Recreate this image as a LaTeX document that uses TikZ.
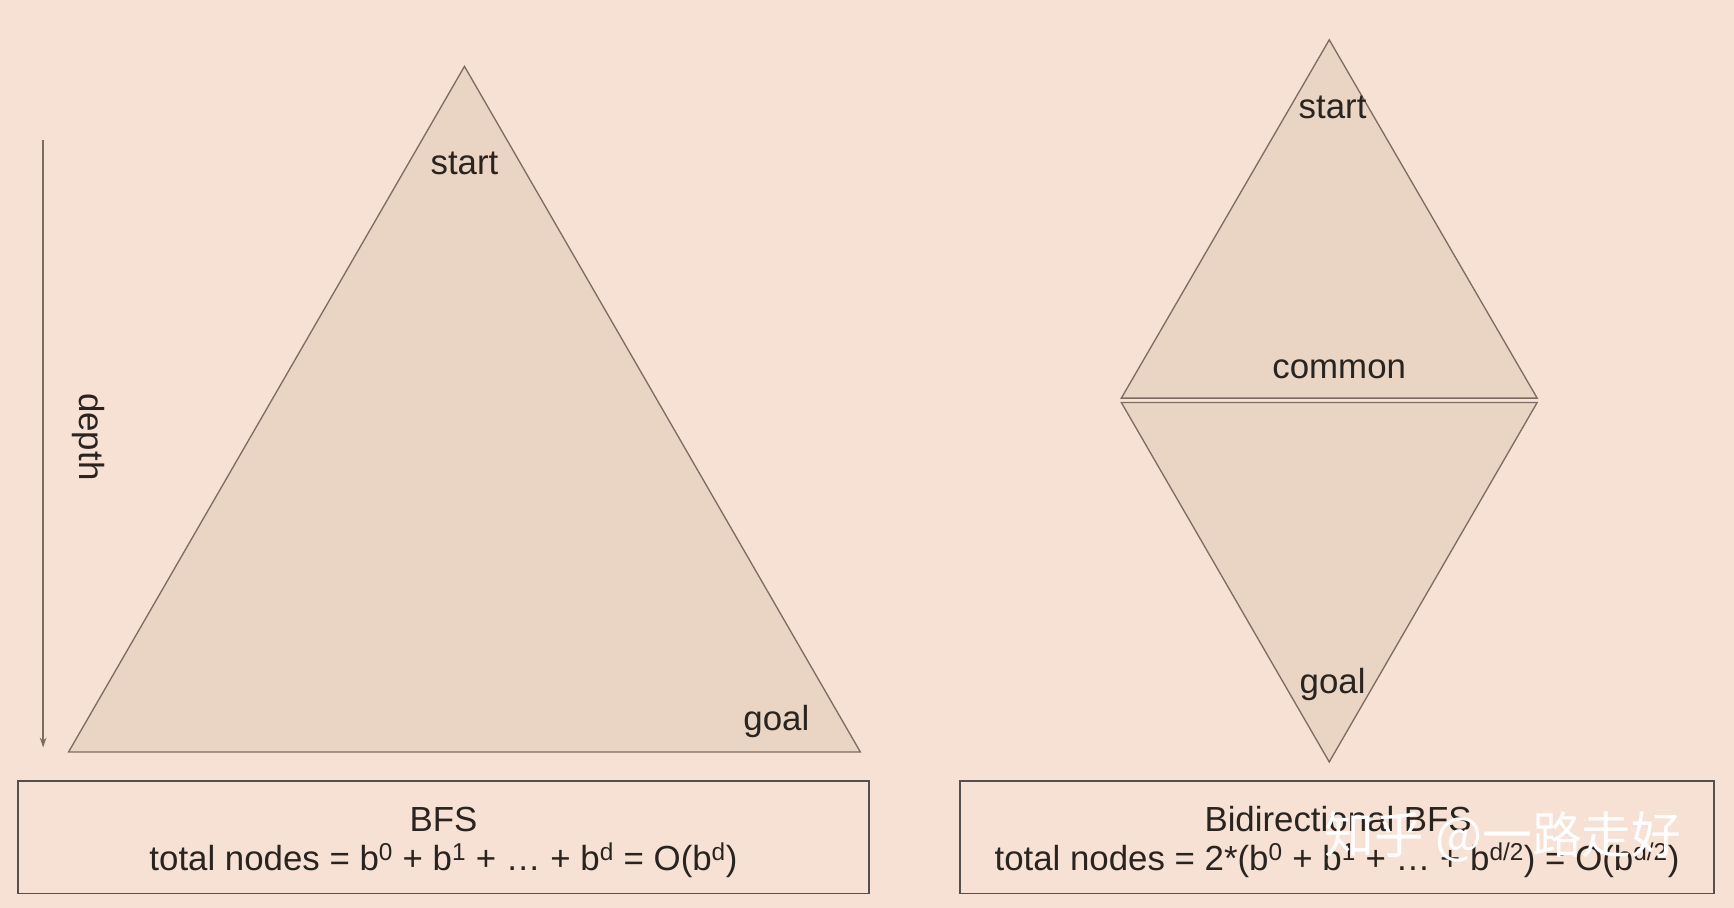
\documentclass[tikz,border=0pt]{standalone}
\usepackage{fontspec}
\usetikzlibrary{arrows.meta}
\setmainfont{Liberation Sans}
\newfontfamily\cjk{Noto Sans CJK SC}
\definecolor{bg}{HTML}{F7E1D4}
\definecolor{tri}{HTML}{EAD5C4}
\definecolor{edge}{HTML}{7E6C62}
\definecolor{ink}{HTML}{2A2420}
\begin{document}
\begin{tikzpicture}[x=1pt,y=-1pt,
  trishape/.style={fill=tri,draw=edge,line width=1.2pt,line join=miter},
  lbl/.style={font=\fontsize{31.5}{36}\selectfont,text=ink,inner sep=0pt},
  boxs/.style={draw=ink!80,line width=1.5pt}]
\fill[bg] (0,0) rectangle (1568,821);
\useasboundingbox (0,0) rectangle (1568,821);
% left
\draw[trishape] (420,60) -- (778,680) -- (62,680) -- cycle;
\coordinate (d1) at (39,127); \coordinate (d2) at (39,676);
\draw[edge,line width=1.2pt,-{Stealth[length=9pt,width=6pt]}] (d1) -- (d2);
\node[lbl,rotate=-90] (depth) at (80,395) {depth};
\node[lbl] (s1) at (420,148) {start};
\node[lbl] (g1) at (702,652) {goal};
\draw[boxs] (16,706) rectangle (786,808);
\node[lbl] (t1) at (401,741) {BFS};
\node[lbl] (f1) at (401,778) {total nodes = b\textsuperscript{0} + b\textsuperscript{1} + \dots\ + b\textsuperscript{d} = O(b\textsuperscript{d})};
% right
\draw[trishape] (1202,36) -- (1390,360) -- (1014,360) -- cycle;
\draw[trishape] (1014,364) -- (1390,364) -- (1202,689) -- cycle;
\node[lbl] (s2) at (1205,97) {start};
\node[lbl] (c2) at (1211,334) {common};
\node[lbl] (g2) at (1205,619) {goal};
\draw[boxs] (868,706) rectangle (1550,808);
\node[lbl] (t2) at (1210,741) {Bidirectional BFS};
\node[lbl] (f2) at (1209,778) {total nodes = 2*(b\textsuperscript{0} + b\textsuperscript{1} + \dots\ + b\textsuperscript{d/2}) = O(b\textsuperscript{d/2})};
\node[text=white,font=\cjk\fontsize{45}{48}\selectfont,inner sep=0pt] (wm) at (1359,757) {知乎 @一路走好};
\end{tikzpicture}
\end{document}
